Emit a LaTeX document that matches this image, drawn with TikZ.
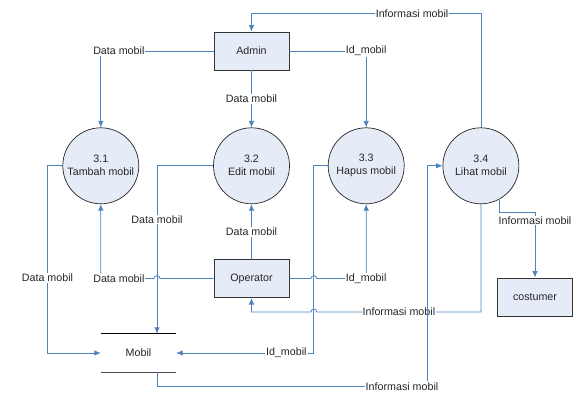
\documentclass[tikz,border=0pt]{standalone}
\usepackage{fontspec}
\setmainfont{Liberation Sans}
\usetikzlibrary{shapes.geometric, arrows.meta, positioning, calc}
\definecolor{linkblue}{RGB}{79,129,189}
\definecolor{boxfill}{RGB}{230,236,247}

\begin{document}
\begin{tikzpicture}[
                x=1pt, y=1pt,
                node distance=38pt,
                every node/.style={font=\fontsize{10.7}{13}\selectfont, text=black!85},
                entity/.style={rectangle, minimum width=75pt, minimum height=38pt, draw=black!80, line width=0.9pt, fill=boxfill, align=center},
                process/.style={circle, minimum size=76pt, inner sep=0pt, draw=black!85, line width=0.7pt, fill=boxfill, align=center},
                datastore/.style={rectangle, minimum width=75pt, minimum height=38pt},
                flow/.style={draw=linkblue, line width=0.8pt, ->, >={Latex[length=6.5pt, width=5.5pt]}},
                lbl/.style={fill=white, inner sep=1pt}
            ]
                \useasboundingbox (0,0) rectangle (576,411);

                % Nodes
                \node (admin) [entity] at (251.5,360) {Admin};
                \node (edit) [process, below=57pt of admin] {3.2\\Edit mobil};
                \node (tambah) [process, left=74pt of edit] {3.1\\Tambah mobil};
                \node (hapus) [process, right=of edit] {3.3\\Hapus mobil};
                \node (lihat) [process, right=of hapus] {3.4\\Lihat mobil};
                \node (operator) [entity, below=55pt of edit] {Operator};
                \node (mobil) [datastore] at (138.5,58) {Mobil};
                \node (costumer) [entity] at (535,114) {costumer};
                \draw [line width=0.9pt] (mobil.north west) -- (mobil.north east);
                \draw [line width=0.9pt, black!70] (mobil.south west) -- (mobil.south east);

                % Bend points
                \coordinate (editdown) at ([xshift=18.5pt]mobil.north);
                \coordinate (hapusdown) at ([xshift=-14pt]hapus.west);
                \coordinate (infoop) at ([yshift=-14pt]operator.south);

                % Arrows from Admin
                \draw [flow] (admin.west) -| node[lbl, pos=0.42] {Data mobil} (tambah.north);
                \draw [flow] (admin.south) -- node[lbl] {Data mobil} (edit.north);
                \draw [flow] (admin.east) -| node[lbl] {Id\_mobil} (hapus.north);
                \draw [flow] (lihat.north) |- node[lbl, pos=0.65] {Informasi mobil} ([yshift=18pt]admin.north) -- (admin.north);

                % Arrows from Operator
                \draw [flow] (operator.north) -- node[lbl] {Data mobil} (edit.south);
                \draw [flow] (operator.west) -- ($(editdown |- operator.west)+(3,0)$) arc[start angle=0, end angle=180, radius=3pt] -| node[lbl, pos=0.33] {Data mobil} (tambah.south);
                \draw [flow] (operator.east) -- ($(hapusdown |- operator.east)+(-3,0)$) arc[start angle=180, end angle=0, radius=3pt] -| node[lbl] {Id\_mobil} (hapus.south);

                % Arrows to Mobil
                \draw [flow] (tambah.west) -- ++(-15,0) |- node[lbl, pos=0.3] {Data mobil} (mobil.west);
                \draw [flow] (edit.west) -| node[lbl, pos=0.66] {Data mobil} (editdown);
                \draw [flow] (hapus.west) -- (hapusdown) |- node[lbl, pos=0.6] {Id\_mobil} (mobil.east);

                % Arrows of Lihat mobil
                \draw [flow] (lihat.south) |- node[lbl, pos=0.75] {Informasi mobil} ($(hapusdown |- infoop)+(3,0)$) arc[start angle=0, end angle=180, radius=3pt] -| (operator.south);
                \draw [flow] ([xshift=18.5pt]mobil.south) |- ++(270,-14) node[lbl, xshift=-25pt] {Informasi mobil} |- (lihat.west);
                \draw [flow] (lihat.-62) |- ([yshift=65pt]costumer.north) node[lbl, yshift=-8pt] {Informasi mobil} -- (costumer.north);

            \end{tikzpicture}
\end{document}
